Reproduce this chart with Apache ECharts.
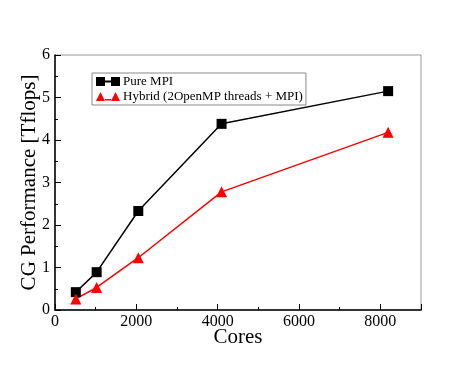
<!DOCTYPE html>
<html><head><meta charset="utf-8">
<script src="https://cdn.jsdelivr.net/npm/echarts@6/dist/echarts.min.js"></script>
<style>html,body{margin:0;padding:0;background:#fff}#c{width:474px;height:366px}</style>
</head><body><div id="c"></div>
<script>
var cores = [512, 1024, 2048, 4096, 8192];
var pureMPI = [0.42, 0.89, 2.33, 4.38, 5.15];
var hybrid = [0.26, 0.53, 1.23, 2.78, 4.18];
var seriesNames = ['Pure MPI', 'Hybrid (2OpenMP threads + MPI)'];
var xTitle = 'Cores';
var yTitle = 'CG Performance [Tflops]';

function pairs(xs, ys){ return xs.map(function(x,i){return [x, ys[i]];}); }
var font = 'Liberation Serif';
var chart = echarts.init(document.getElementById('c'));
chart.setOption({
  backgroundColor:'#fff',
  animation:false,
  grid:{left:55,right:53,top:55,bottom:56,show:true,borderColor:'#999',borderWidth:1},
  legend:{
    left:92, top:73, orient:'vertical', itemGap:2, itemWidth:24, itemHeight:9,
    padding:[2,3,2,4], borderColor:'#888', borderWidth:1, borderRadius:0,
    textStyle:{fontFamily:font,fontSize:13,color:'#000',padding:[0,0,0,-2]},
    data:[
      {name:seriesNames[0], icon:'path://M0,0h9v9h-9z M9,3.5h6v2h-6z M15,0h9v9h-9z'},
      {name:seriesNames[1], icon:'path://M0,9L4.5,0L9,9z M9,7h6v1.5h-6z M15,9L19.5,0L24,9z'}
    ]
  },
  xAxis:{
    type:'value', min:0, max:9000, interval:2000,
    name:xTitle, nameLocation:'middle', nameGap:17, nameMoveOverlap:false,
    nameTextStyle:{fontFamily:font,fontSize:21,color:'#000'},
    axisLine:{lineStyle:{color:'#000',width:1.5}},
    axisTick:{inside:true,length:6,lineStyle:{color:'#000'}},
    minorTick:{show:true,splitNumber:2,length:3,lineStyle:{color:'#000'}},
    axisLabel:{fontFamily:font,fontSize:16,color:'#000',showMaxLabel:false,margin:4,
      formatter:function(v){return String(v);}},
    splitLine:{show:false}
  },
  yAxis:{
    type:'value', min:0, max:6, interval:1,
    name:yTitle, nameLocation:'middle', nameGap:15, nameMoveOverlap:false,
    nameTextStyle:{fontFamily:font,fontSize:21,color:'#000'},
    axisLine:{lineStyle:{color:'#000',width:1.5}},
    axisTick:{inside:true,length:6,lineStyle:{color:'#000'}},
    minorTick:{show:true,splitNumber:2,length:3,lineStyle:{color:'#000'}},
    axisLabel:{fontFamily:font,fontSize:16,color:'#000',margin:5},
    splitLine:{show:false}
  },
  series:[
    {name:seriesNames[0],type:'line',data:pairs(cores,pureMPI),symbol:'rect',symbolSize:10,
     lineStyle:{color:'#000',width:1.5},itemStyle:{color:'#000'}},
    {name:seriesNames[1],type:'line',data:pairs(cores,hybrid),symbol:'triangle',symbolSize:11,
     lineStyle:{color:'#f00',width:1.5},itemStyle:{color:'#f00'}}
  ]
});
</script></body></html>
